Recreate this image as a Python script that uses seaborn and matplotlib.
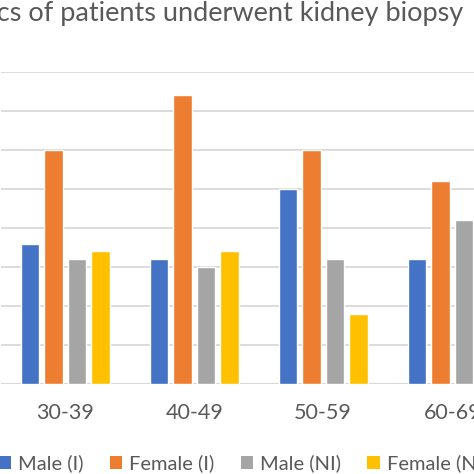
import matplotlib
matplotlib.use("Agg")
import matplotlib.pyplot as plt
from matplotlib.patches import Patch
import seaborn as sns
import pandas as pd

age_groups = ["30-39", "40-49", "50-59", "60-69"]
series = ["Male (I)", "Female (I)", "Male (NI)", "Female (NI)"]
male_i = [18, 16, 25, 16]
female_i = [30, 37, 30, 26]
male_ni = [16, 15, 16, 21]
female_ni = [17, 17, 9, 10]  # last value is outside the visible crop
colors = ["#4472C4", "#ED7D31", "#A5A5A5", "#FFC000"]
title = "Demographics of patients underwent kidney biopsy"

rows = []
for name, vals in zip(series, [male_i, female_i, male_ni, female_ni]):
    for g, v in zip(age_groups, vals):
        rows.append({"age": g, "series": name, "n": v})
df = pd.DataFrame(rows)

sns.set_style("white")
plt.rcParams['font.family'] = ['Lato', 'DejaVu Sans']
txt = "#595959"

W = 474
fig = plt.figure(figsize=(4.74, 4.74), dpi=100)
# plot area is larger than the canvas: the picture is a crop
ax = fig.add_axes([0.7 / W, 90 / W, 516 / W, 312 / W])

sns.barplot(data=df, x="age", y="n", hue="series", hue_order=series,
            palette=colors, width=0.725, gap=0.2, saturation=1,
            legend=False, ax=ax)

ax.set_xlim(-0.5, len(age_groups) - 0.5)
ax.set_ylim(0, 40)
ax.set_yticks(range(0, 41, 5))
ax.yaxis.grid(True, color="#D9D9D9", linewidth=1.3)
ax.set_axisbelow(True)
for s in ax.spines.values():
    s.set_visible(False)
ax.axhline(0, color="#D9D9D9", linewidth=1.5, zorder=0.5)
ax.tick_params(axis="x", length=0, labelsize=15.5, labelcolor=txt, pad=14)
ax.tick_params(axis="y", length=0, labelleft=False)
ax.set_xlabel("")
ax.set_ylabel("")

fig.text(463 / W, 1 - 21 / W, title, ha="right", va="baseline",
         fontsize=19.5, color=txt)

handles = [Patch(facecolor=c, edgecolor="none") for c in colors]
fig.legend(handles, series, ncol=4, loc="center left",
           bbox_to_anchor=(-0.003, 1 - 463.5 / W), frameon=False,
           fontsize=14.5, labelcolor=txt, handlelength=0.62, handleheight=0.62,
           handletextpad=0.35, columnspacing=1.3, borderpad=0, borderaxespad=0)

fig.savefig("out.png", dpi=100)
